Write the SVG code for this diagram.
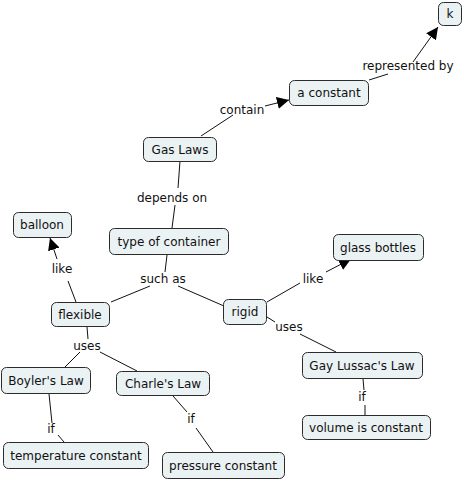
<svg xmlns="http://www.w3.org/2000/svg" width="464" height="481" viewBox="0 0 464 481">
<style>
.n rect{fill:#ebf2f4;stroke:#2b2b2b;stroke-width:1}
text{font-family:"DejaVu Sans","Verdana",sans-serif;font-size:12px;fill:#111;text-anchor:middle}
.c line{stroke:#111;stroke-width:1}
</style>
<defs>
<marker id="a" viewBox="0 0 10 10" refX="10" refY="5" markerWidth="12" markerHeight="12" markerUnits="userSpaceOnUse" orient="auto">
<path d="M0,0L10,5L0,10z" fill="#000"/>
</marker>
</defs>
<rect width="464" height="481" fill="#fff"/>
<g class="c">
<line x1="201" y1="136" x2="233" y2="115"/>
<line x1="265" y1="106" x2="289" y2="100" marker-end="url(#a)"/>
<line x1="369" y1="80" x2="388" y2="74"/>
<line x1="413" y1="62" x2="438" y2="27" marker-end="url(#a)"/>
<line x1="180" y1="161" x2="178" y2="188"/>
<line x1="175" y1="205" x2="172" y2="228"/>
<line x1="167" y1="255" x2="165" y2="272"/>
<line x1="150" y1="286" x2="111" y2="302"/>
<line x1="178" y1="286" x2="224" y2="306"/>
<line x1="76" y1="302" x2="68" y2="281"/>
<line x1="57" y1="259" x2="50" y2="238" marker-end="url(#a)"/>
<line x1="87" y1="327" x2="88" y2="339"/>
<line x1="80" y1="352" x2="65" y2="367"/>
<line x1="100" y1="352" x2="137" y2="371"/>
<line x1="49" y1="394" x2="52" y2="423"/>
<line x1="58" y1="435" x2="64" y2="442"/>
<line x1="173" y1="396" x2="187" y2="412"/>
<line x1="196" y1="428" x2="213" y2="452"/>
<line x1="267" y1="302" x2="300" y2="283"/>
<line x1="326" y1="272" x2="351" y2="259" marker-end="url(#a)"/>
<line x1="267" y1="317" x2="275" y2="322"/>
<line x1="300" y1="334" x2="336" y2="352"/>
<line x1="363" y1="379" x2="364" y2="390"/>
<line x1="365" y1="405" x2="365" y2="415"/>
</g>
<g id="lbl">
<text x="242" y="114">contain</text>
<text x="408" y="70">represented by</text>
<text x="172" y="202">depends on</text>
<text x="163" y="283">such as</text>
<text x="62" y="273">like</text>
<text x="313" y="283">like</text>
<text x="289" y="331">uses</text>
<text x="87" y="350">uses</text>
<text x="51" y="433">if</text>
<text x="191" y="423">if</text>
<text x="362" y="401">if</text>
</g>
<g id="k" class="n"><rect x="438.5" y="2.5" width="23" height="23" rx="5"/><text x="450" y="18">k</text></g>
<g id="a_constant" class="n"><rect x="289.5" y="80.5" width="79" height="25" rx="5"/><text x="329" y="97">a constant</text></g>
<g id="gas_laws" class="n"><rect x="143.5" y="137.5" width="73" height="24" rx="5"/><text x="180" y="154">Gas Laws</text></g>
<g id="balloon" class="n"><rect x="13.5" y="212.5" width="58" height="25" rx="5"/><text x="42" y="229">balloon</text></g>
<g id="type_of_container" class="n"><rect x="109.5" y="228.5" width="119" height="26" rx="5"/><text x="169" y="246">type of container</text></g>
<g id="glass_bottles" class="n"><rect x="333.5" y="234.5" width="90" height="26" rx="5"/><text x="378" y="252">glass bottles</text></g>
<g id="flexible" class="n"><rect x="51.5" y="302.5" width="58" height="24" rx="5"/><text x="80" y="319">flexible</text></g>
<g id="rigid" class="n"><rect x="223.5" y="299.5" width="43" height="25" rx="5"/><text x="245" y="316">rigid</text></g>
<g id="gay_lussac" class="n"><rect x="302.5" y="352.5" width="120" height="26" rx="5"/><text x="362" y="370">Gay Lussac's Law</text></g>
<g id="boyler" class="n"><rect x="1.5" y="367.5" width="89" height="26" rx="5"/><text x="46" y="385">Boyler's Law</text></g>
<g id="charle" class="n"><rect x="116.5" y="371.5" width="93" height="24" rx="5"/><text x="163" y="388">Charle's Law</text></g>
<g id="volume_constant" class="n"><rect x="302.5" y="415.5" width="128" height="24" rx="5"/><text x="366" y="432">volume is constant</text></g>
<g id="temperature_constant" class="n"><rect x="3.5" y="442.5" width="145" height="26" rx="5"/><text x="76" y="460">temperature constant</text></g>
<g id="pressure_constant" class="n"><rect x="162.5" y="452.5" width="122" height="26" rx="5"/><text x="223" y="470">pressure constant</text></g>
</svg>
